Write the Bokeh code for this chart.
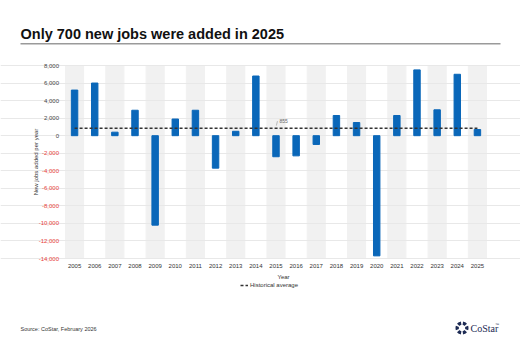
import numpy as np
from bokeh.plotting import figure
from bokeh.core.properties import value
from bokeh.models import (ColumnDataSource, FixedTicker, Grid, Label,
                          Legend, LegendItem)
from bokeh.embed import file_html
from bokeh.resources import INLINE

# ---------------- data ----------------
years = [str(y) for y in range(2005, 2026)]
jobs = [5200, 6000, 400, 2900, -10200, 1900, 2900, -3700, 500, 6800,
        -2400, -2300, -1000, 2300, 1500, -13700, 2300, 7500, 2950, 7000, 700]
hist_avg = 855
avg_label_year = "2015"
y_ticks = [8000, 6000, 4000, 2000, 0, -2000, -4000, -6000, -8000, -10000, -12000, -14000]
y_tick_labels = [f"{v:,}" for v in y_ticks]

title_text = "Only 700 new jobs were added in 2025"
y_title = "New jobs added per year"
x_title = "Year"
legend_text = "Historical average"
source_text = "Source: CoStar, February 2026"

# ---------------- layout helpers (pixel -> data) ----------------
W, H = 520, 346
FL, FR, FT, FB = 64, 487, 65, 258          # chart area in pixels
x0, x1 = -0.5, len(years) - 0.5
y0, y1 = min(y_ticks), max(y_ticks)

def dx(px):
    return x0 + (px - FL) * (x1 - x0) / (FR - FL)

def dy(py):
    return y1 - (py - FT) * (y1 - y0) / (FB - FT)

FONT = "Liberation Sans"
BAR = "#0a67b9"
NAVY = "#1d2b54"
TXT = "#333333"

idx = list(range(len(years)))

p = figure(width=W, height=H, x_range=(dx(0), dx(W)), y_range=(dy(H), dy(0)),
           output_backend="svg", toolbar_location=None,
           x_axis_location=None, y_axis_location=None,
           min_border=0)
p.title.visible = False
p.outline_line_color = None
p.background_fill_color = "white"
p.border_fill_color = "white"
for g in p.grid:
    g.visible = False

# alternating bands
p.vbar(x=idx[::2], width=0.9, top=y1, bottom=y0, color="#f1f1f1", level="image")

# horizontal grid limited to the chart area
p.add_layout(Grid(dimension=1, ticker=FixedTicker(ticks=y_ticks), bounds=(x0, x1),
                  grid_line_color="#e8e8e8", grid_line_width=1))

# bars
p.vbar(x=idx, top=jobs, bottom=0, width=0.32, color=BAR)

# historical average
avg_line = p.line(x=idx, y=[hist_avg] * len(years), line_color=TXT,
                  line_width=1.6, line_dash="3 2")

ai = years.index(avg_label_year)
p.segment(x0=[ai + 0.02], y0=[hist_avg + 300], x1=[ai + 0.07], y1=[hist_avg + 800],
          line_color="#aaaaaa", line_width=0.8)
p.add_layout(Label(x=ai, y=hist_avg, text=f"{hist_avg:,}", x_offset=3.5, y_offset=7.5,
                   text_baseline="middle", text_font=FONT, text_font_size="5px",
                   text_color="#666666"))

# x tick labels
p.text(x=idx, y=[dy(265.5)] * len(idx), text=years, text_align="center",
       text_baseline="middle", text_font=value(FONT), text_font_size="6px",
       text_color=TXT)

# y tick labels (negatives in red)
ysrc = ColumnDataSource(dict(
    y=y_ticks, text=y_tick_labels,
    color=["#e8413a" if v < 0 else "#444444" for v in y_ticks]))
p.text(x=dx(58.5), y="y", text="text", source=ysrc, text_align="right",
       text_baseline="middle", text_font=value(FONT), text_font_size="6px",
       text_color="color")

# axis titles
p.add_layout(Label(x=dx(35), y=dy(161.5), text=y_title, angle=np.pi / 2,
                   text_align="center", text_baseline="middle",
                   text_font=FONT, text_font_size="6px", text_color=TXT))
p.add_layout(Label(x=dx(283), y=dy(276), text=x_title,
                   text_align="center", text_baseline="middle",
                   text_font=FONT, text_font_size="6px", text_color=TXT))

# legend (location = bottom-left corner, pixels from canvas bottom-left)
leg = Legend(items=[LegendItem(label=legend_text, renderers=[avg_line])],
             location=(240, H - 289), orientation="horizontal",
             glyph_width=8, glyph_height=8, label_height=8, label_standoff=2,
             padding=0, margin=0, spacing=0,
             label_text_font=FONT, label_text_font_size="6px",
             label_text_color=TXT, border_line_color=None,
             background_fill_alpha=0)
p.add_layout(leg, "center")

# title + rule
p.add_layout(Label(x=dx(20), y=dy(33.5), text=title_text, text_baseline="alphabetic",
                   text_font=FONT, text_font_size="14.5px", text_font_style="bold",
                   text_color="#111111"))
p.segment(x0=[dx(20)], y0=[dy(43.3)], x1=[dx(500)], y1=[dy(43.3)],
          line_color="#9a9a9a", line_width=1.5)

# source
p.add_layout(Label(x=dx(20), y=dy(328), text=source_text, text_baseline="middle",
                   text_font=FONT, text_font_size="5.5px", text_color=TXT))

# logo icon (ring of six segments)
cx, cy = 461.5, 327.5
r_out, r_in = 6.5, 3.2
xs, ys = [], []
for k in range(6):
    t = np.linspace(np.deg2rad(90 + k * 60 + 10), np.deg2rad(90 + k * 60 + 50), 5)
    pxs = list(cx + r_out * np.cos(t)) + list(cx + r_in * np.cos(t[::-1]))
    pys = list(cy - r_out * np.sin(t)) + list(cy - r_in * np.sin(t[::-1]))
    xs.append([dx(v) for v in pxs])
    ys.append([dy(v) for v in pys])
p.patches(xs=xs, ys=ys, fill_color=NAVY, line_color=None)
p.add_layout(Label(x=dx(470), y=dy(327.5), text="CoStar", text_baseline="middle",
                   text_font="Liberation Serif", text_font_size="10px",
                   text_color=NAVY))
p.add_layout(Label(x=dx(494.5), y=dy(324), text="™", text_baseline="middle",
                   text_font=FONT, text_font_size="4px", text_color=NAVY))

open("out.html", "w").write(file_html(p, INLINE))
